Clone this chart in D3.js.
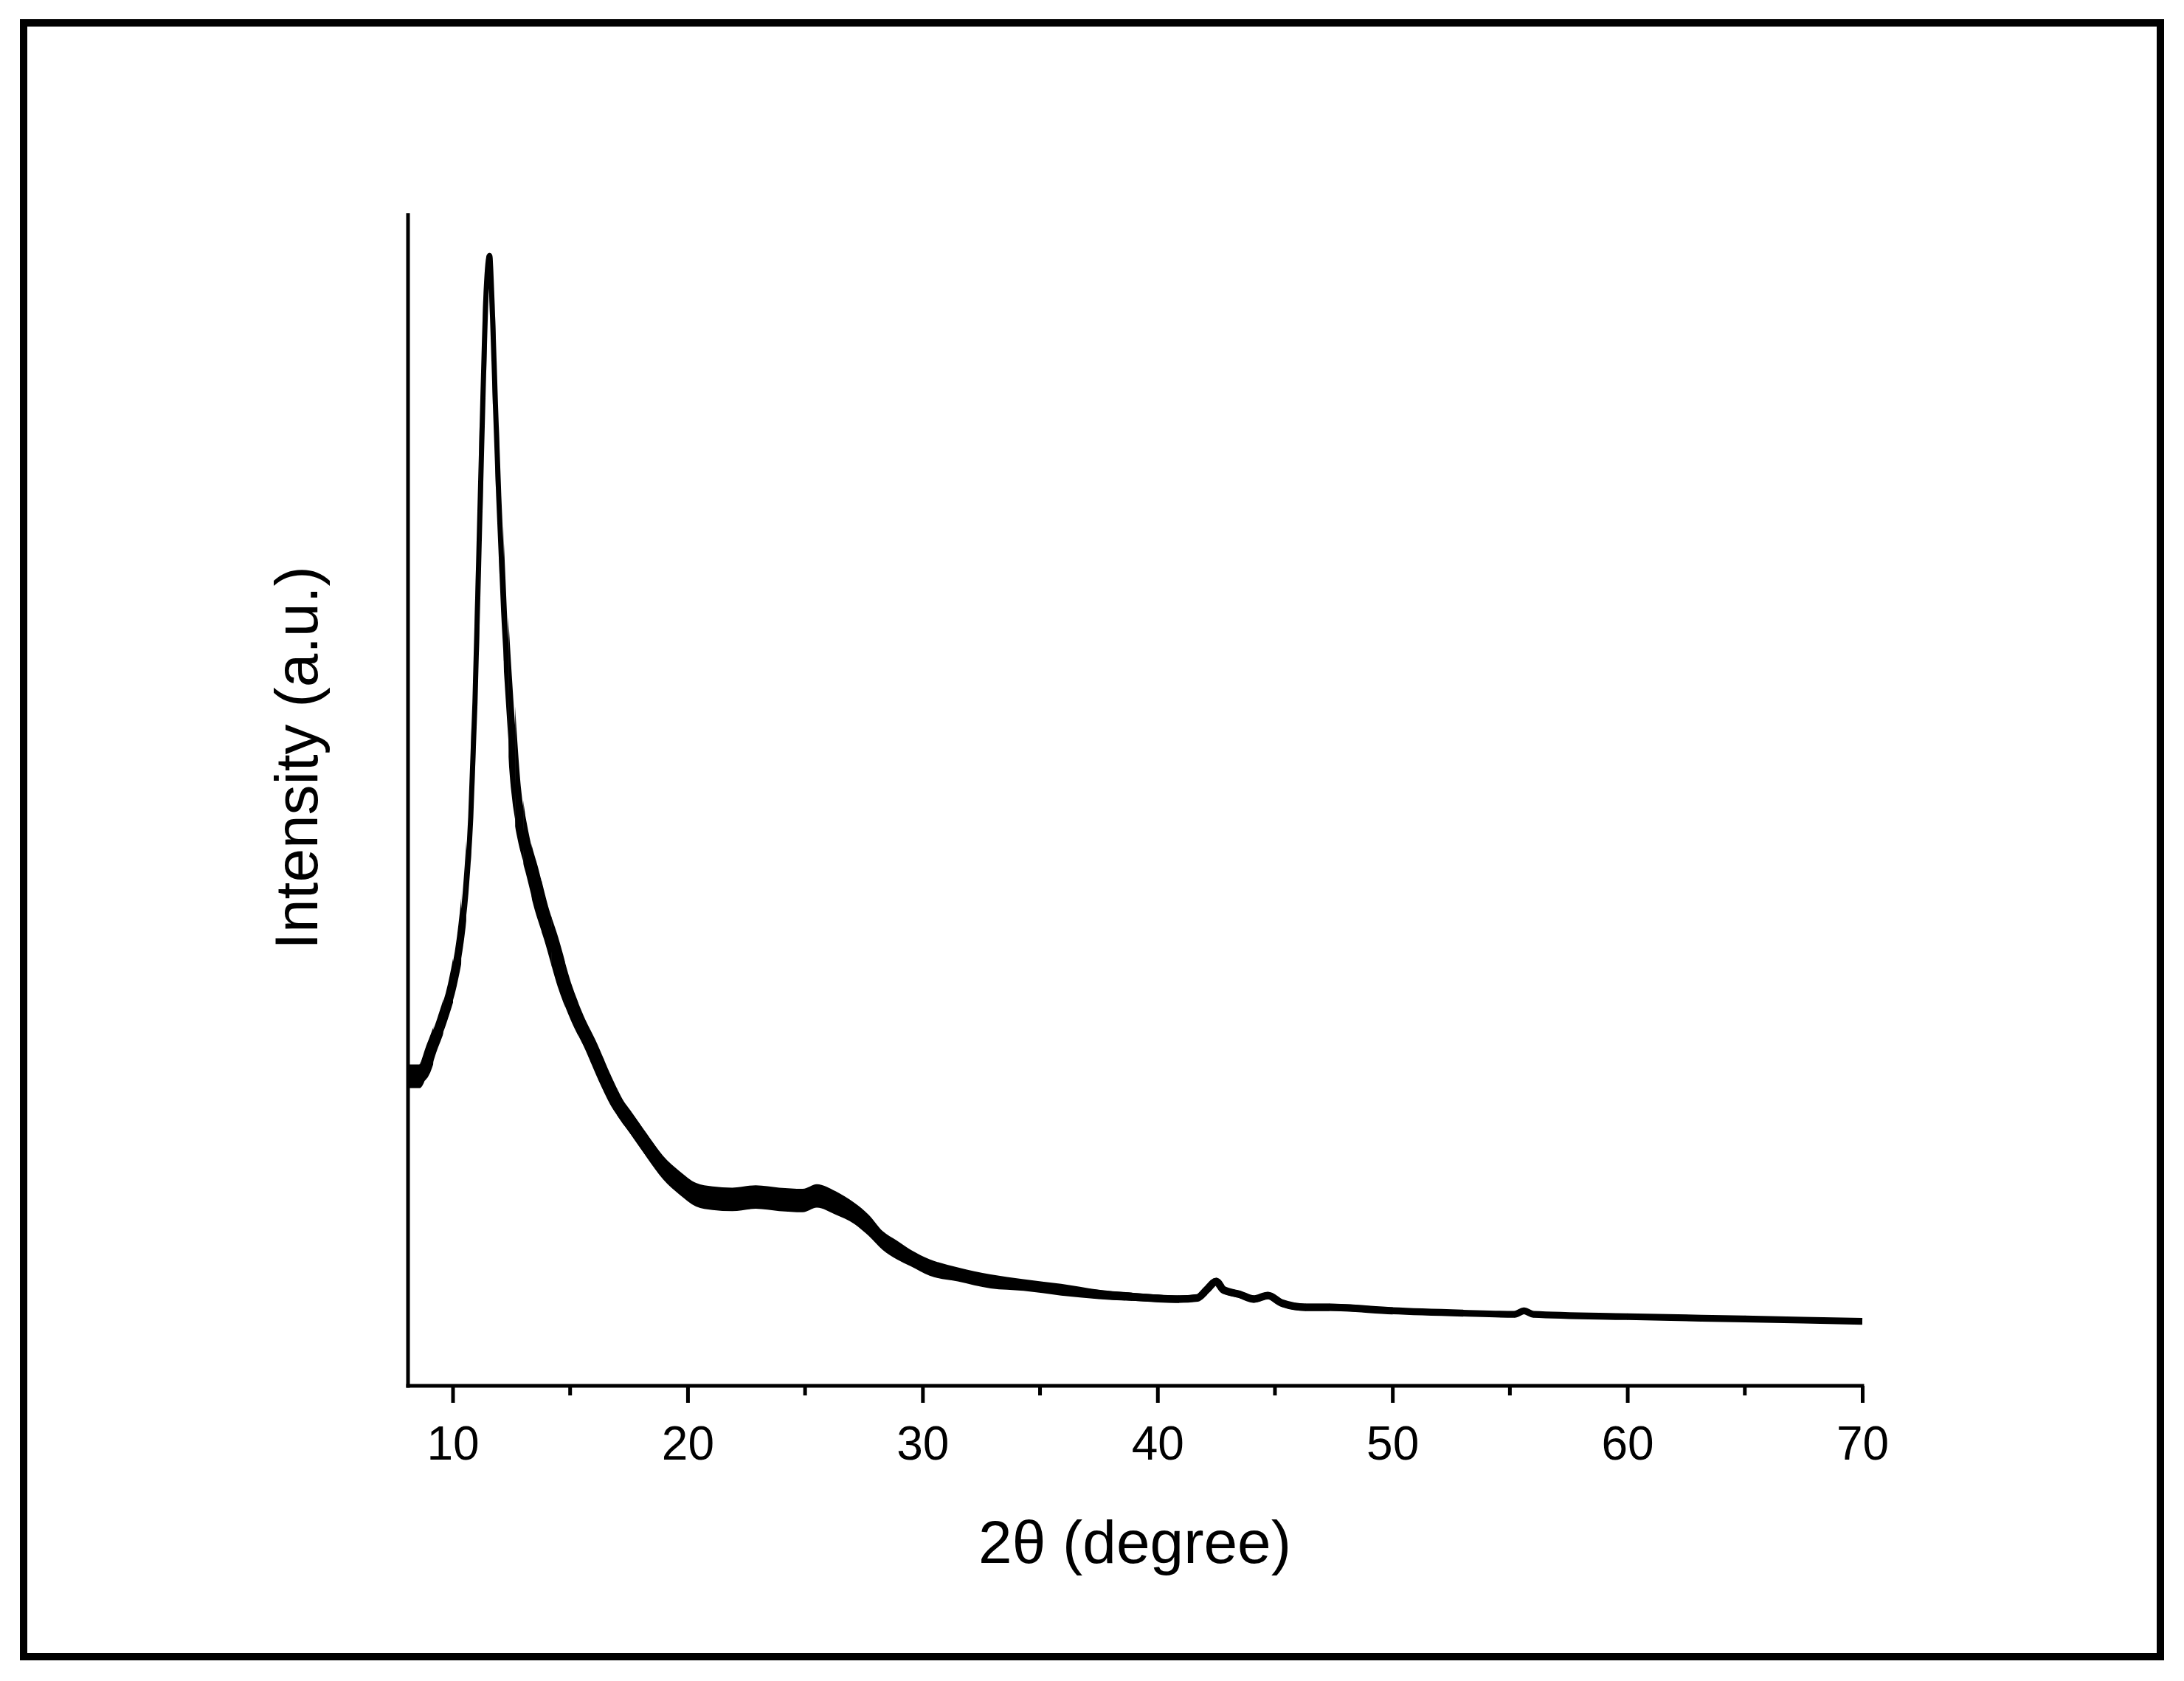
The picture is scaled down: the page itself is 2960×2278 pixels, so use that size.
<!DOCTYPE html>
<html>
<head>
<meta charset="utf-8">
<script src="https://cdn.jsdelivr.net/npm/d3@7"></script>
<style>
  html, body { margin: 0; padding: 0; background: #fff; }
</style>
</head>
<body>
<div class="xrd"></div>
<script>
const width = 2960
const height = 2278

// 2theta positions (degree) and intensity (a.u., 0-100 of axis height)
const twoTheta = [8.1, 8.6, 9.16, 9.58, 10.0, 10.35, 10.56, 10.77, 10.95, 11.12, 11.29, 11.43, 11.57,
  11.68, 11.82, 11.96, 12.17, 12.38, 12.66, 13.01, 13.36, 13.78, 14.2, 14.76, 15.32, 15.88, 16.44,
  17.0, 17.56, 18.26, 18.96, 19.66, 20.36, 21.06, 21.9, 22.9, 23.9, 24.9, 25.5, 26.3, 27.1, 27.7,
  28.3, 28.9, 29.5, 30.3, 31.5, 32.9, 34.3, 35.9, 37.5, 38.9, 40.9, 41.7, 42.1, 42.5, 42.8, 43.5,
  44.1, 44.7, 45.3, 46.3, 47.3, 50, 53, 55.2, 55.6, 56, 60, 65, 70];
const intensity = [26.4, 26.4, 29.0, 31.3, 34.2, 38.1, 42.0, 48.5, 58.3, 71.3, 84.4, 93.5, 96.4,
  92.2, 83.7, 75.9, 66.1, 59.0, 51.1, 46.6, 44.0, 40.7, 38.1, 34.2, 31.3, 29.0, 26.4,
  24.1, 22.5, 20.5, 18.6, 17.3, 16.3, 16.0, 15.9, 16.1, 15.9, 15.8, 16.2, 15.6, 14.7, 13.7,
  12.4, 11.6, 10.9, 10.1, 9.5, 8.9, 8.6, 8.2, 7.8, 7.6, 7.4, 7.5, 8.2, 8.9, 8.2, 7.8,
  7.4, 7.7, 7.05, 6.7, 6.7, 6.4, 6.2, 6.1, 6.4, 6.1, 5.9, 5.7, 5.5];
// half width of the noise band round the trace, same units
const noiseHalf = [1.0, 1.0, 0.8, 0.6, 0.5, 0.3, 0, 0, 0, 0, 0, 0, 0,
  0, 0, 0, 0, 0.3, 0.6, 0.9, 1.0, 1.1, 1.1, 1.1, 1.0, 1.0, 1.0,
  1.0, 1.0, 1.0, 1.0, 1.0, 1.0, 1.0, 1.0, 1.0, 1.0, 1.0, 1.0, 1.0, 0.9, 0.9,
  0.8, 0.8, 0.7, 0.7, 0.6, 0.6, 0.5, 0.5, 0.4, 0.35, 0.3, 0.3, 0.3, 0.3, 0.3, 0.3,
  0.3, 0.3, 0.3, 0.3, 0.3, 0.25, 0.2, 0.2, 0.2, 0.2, 0.2, 0.2, 0.2];

const majorTicks = [10, 20, 30, 40, 50, 60, 70];
const minorTicks = [15, 25, 35, 45, 55, 65];

const xLabel = "2\u03b8 (degree)";
const yLabel = "Intensity (a.u.)";

function drawXRD() {
  const left = 553, right = 2524, top = 289, bottom = 1878;

  const x = d3.scaleLinear().domain([8.1, 70]).range([left, right]);
  const y = d3.scaleLinear().domain([0, 100]).range([bottom, top]);

  const svg = d3.create("svg")
    .attr("width", width)
    .attr("height", height)
    .attr("viewBox", [0, 0, width, height])
    .style("font-family", "'Liberation Sans', Arial, sans-serif");

  svg.append("rect")
    .attr("width", width).attr("height", height)
    .attr("fill", "white");

  // outer frame
  svg.append("rect")
    .attr("x", 32).attr("y", 31)
    .attr("width", 2896).attr("height", 2214)
    .attr("fill", "none")
    .attr("stroke", "black")
    .attr("stroke-width", 10);

  // x axis with major ticks
  const xAxis = svg.append("g")
    .attr("transform", `translate(0,${bottom})`)
    .call(d3.axisBottom(x).tickValues(majorTicks).tickSize(23).tickPadding(32).tickFormat(d3.format("d")));
  xAxis.select(".domain").attr("stroke-width", 5).attr("d", `M${left - 2.5},0H${right + 2.5}`);
  xAxis.selectAll(".tick line").attr("stroke-width", 5);
  xAxis.selectAll(".tick text")
    .style("font-size", "64px")
    .attr("fill", "black")
    .attr("font-family", "'Liberation Sans', Arial, sans-serif");

  // minor ticks
  svg.append("g")
    .attr("transform", `translate(0,${bottom})`)
    .selectAll("line")
    .data(minorTicks)
    .join("line")
    .attr("x1", d => x(d)).attr("x2", d => x(d))
    .attr("y1", 0).attr("y2", 13)
    .attr("stroke", "black")
    .attr("stroke-width", 5);

  // y axis, no ticks
  svg.append("line")
    .attr("x1", left).attr("x2", left)
    .attr("y1", top).attr("y2", bottom + 2.5)
    .attr("stroke", "black")
    .attr("stroke-width", 5);

  const data = twoTheta.map((t, i) => ({t: t, v: intensity[i], h: noiseHalf[i]}));

  const band = d3.area()
    .x(d => x(d.t))
    .y0(d => y(d.v - d.h))
    .y1(d => y(d.v + d.h))
    .curve(d3.curveMonotoneX);

  const line = d3.line()
    .x(d => x(d.t))
    .y(d => y(d.v))
    .curve(d3.curveMonotoneX);

  svg.append("path")
    .datum(data)
    .attr("fill", "black")
    .attr("d", band);

  // trace: same curve, drawn thicker where the recorded noise is wider
  const defs = svg.append("defs");
  const segs = d3.pairs(data);
  segs.forEach(([a, b], i) => {
    defs.append("clipPath").attr("id", `seg${i}`)
      .append("rect")
      .attr("x", x(a.t) - (i === 0 ? 20 : 0))
      .attr("y", 0)
      .attr("width", x(b.t) - x(a.t) + (i === 0 ? 20 : 0) + (i === segs.length - 1 ? 20 : 0.5))
      .attr("height", height);
  });

  svg.append("g")
    .selectAll("path")
    .data(segs)
    .join("path")
    .attr("clip-path", (d, i) => `url(#seg${i})`)
    .attr("fill", "none")
    .attr("stroke", "black")
    .attr("stroke-linejoin", "round")
    .attr("stroke-width", ([a, b]) => 7 + 11 * (a.h + b.h) / 2)
    .attr("d", line(data));

  svg.append("text")
    .attr("x", 1538).attr("y", 2118)
    .attr("text-anchor", "middle")
    .style("font-size", "82px")
    .text(xLabel);

  svg.append("text")
    .attr("transform", "translate(430,1027) rotate(-90)")
    .attr("text-anchor", "middle")
    .style("font-size", "82px")
    .text(yLabel);

  document.querySelector(".xrd").append(svg.node());
}

drawXRD();
</script>
</body>
</html>
